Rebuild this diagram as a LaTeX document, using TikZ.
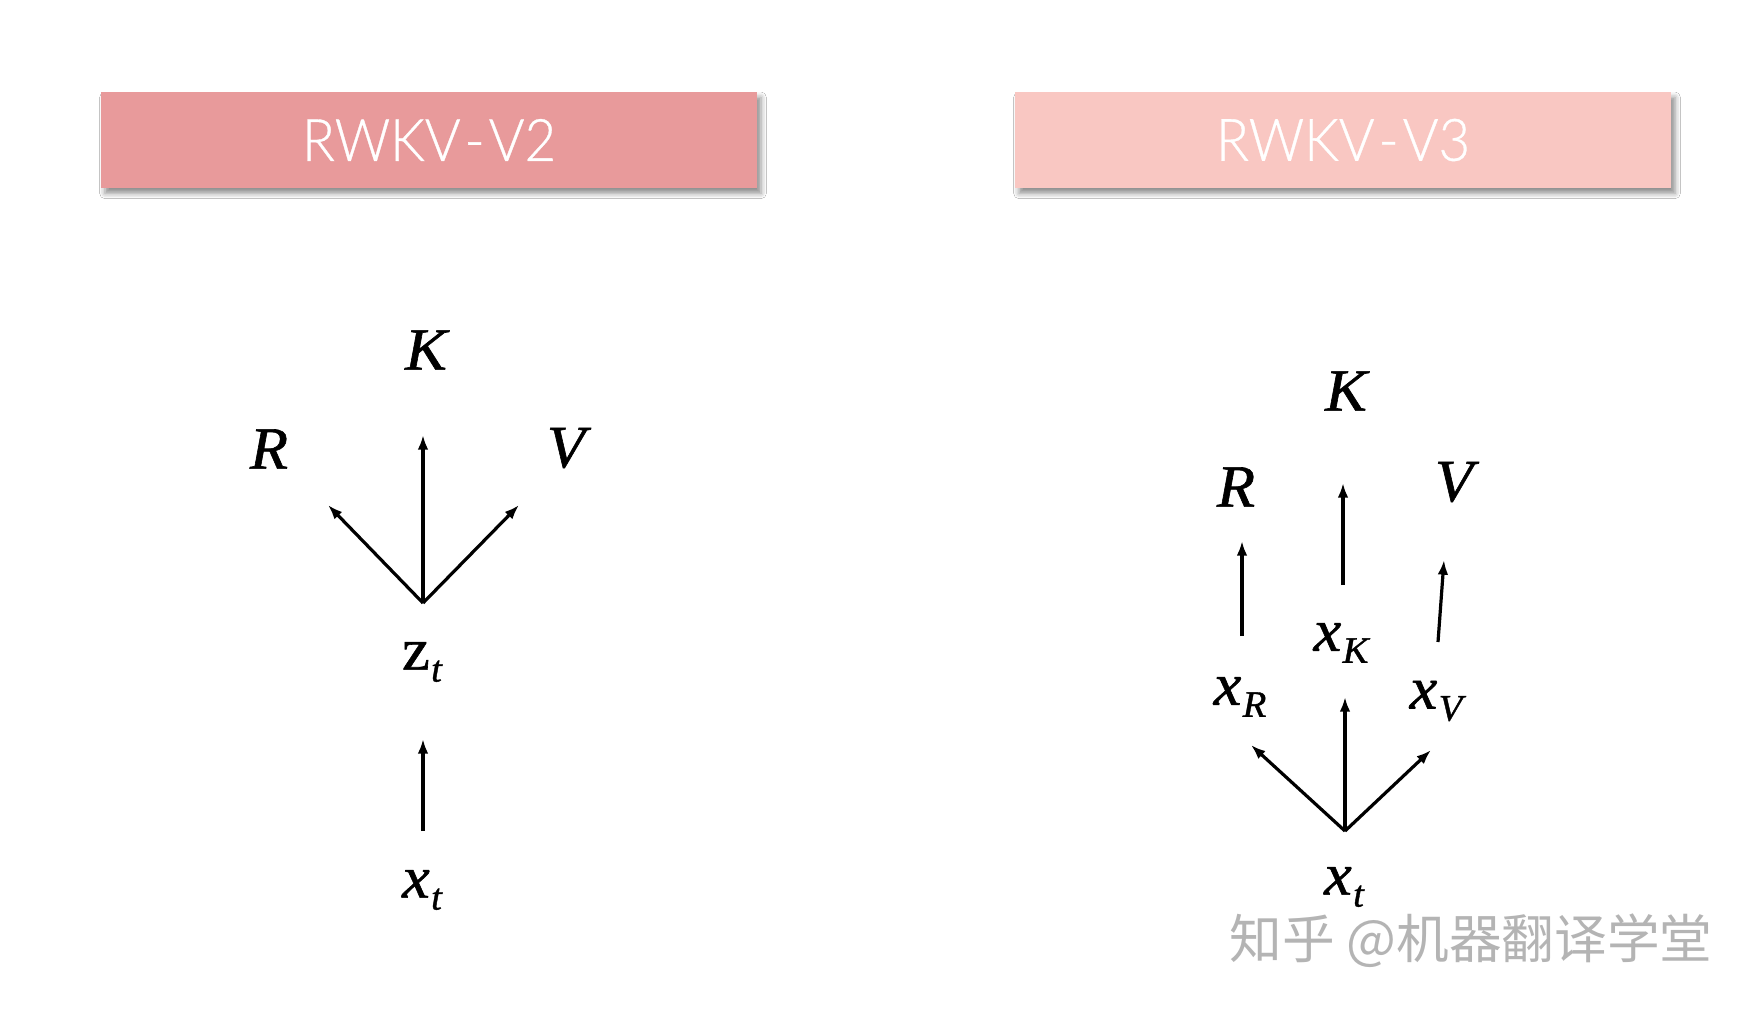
\documentclass[tikz,border=0pt]{standalone}
\usepackage{fontspec}
\setsansfont{Lato Light}[FakeStretch=0.93, FakeBold=0.6]
\newfontfamily\cjk{Noto Sans CJK SC}
\newfontfamily\mf{Liberation Serif}[FakeBold=1.0, FakeStretch=1.04]
\usetikzlibrary{shadows.blur,arrows.meta}
\definecolor{titleA}{HTML}{E89A9B}
\definecolor{titleB}{HTML}{F9C7C2}
\definecolor{wmark}{HTML}{B4B4B4}
\newcommand{\vsub}[2]{#1\kern1pt\raisebox{-9pt}{\fontsize{28}{30}\selectfont #2}}
\tikzset{
  titlebox/.style={minimum width=492pt, minimum height=72pt, inner sep=0pt,
    text=white, font=\sffamily\fontsize{44}{48}\selectfont,
    blur shadow={shadow xshift=3pt, shadow yshift=-4pt, shadow blur radius=4pt, shadow opacity=45}},
  mlabel/.style={inner sep=0pt, font=\mf\itshape\fontsize{45}{48}\selectfont},
  arr/.style={line width=2.4pt, -{Latex[length=11pt,width=8pt]}},
}
\begin{document}
\begin{tikzpicture}[x=0.75pt,y=-0.75pt]
\useasboundingbox[fill=white] (0,0) rectangle (1756,1008);
% titles
\node[titlebox, fill=titleA] (tA) at (429,140) {RWKV\hspace{3pt}-\hspace{3pt}V2};
\node[titlebox, fill=titleB] (tB) at (1343,140) {RWKV\hspace{3pt}-\hspace{3pt}V3};
% ---- left diagram (V2)
\node[mlabel] (K2) at (426,350) {K};
\node[mlabel] (R2) at (269,449) {R};
\node[mlabel] (V2) at (566,448) {V};
\node[mlabel] (z2) at (422,662) {\vsub{{\upshape z}}{t}};
\node[mlabel] (x2) at (422,890) {\vsub{x}{t}};
\coordinate (o2) at (423,603);
\coordinate (kt2) at (423,435);
\coordinate (rt2) at (328,505);
\coordinate (vt2) at (519,505);
\coordinate (ub2) at (423,831);
\coordinate (ut2) at (423,739);
\draw[arr] (o2) -- (kt2);
\draw[arr] (o2) -- (rt2);
\draw[arr] (o2) -- (vt2);
\draw[arr] (ub2) -- (ut2);
% ---- right diagram (V3)
\node[mlabel] (K3) at (1346,391) {K};
\node[mlabel] (R3) at (1236,487) {R};
\node[mlabel] (V3) at (1454,482) {V};
\node[mlabel] (xK) at (1341,643) {\vsub{x}{K}};
\node[mlabel] (xR) at (1240,697) {\vsub{x}{R}};
\node[mlabel] (xV) at (1436,701) {\vsub{x}{V}};
\node[mlabel] (x3) at (1344,887) {\vsub{x}{t}};
\coordinate (rb3) at (1242,636);
\coordinate (rt3) at (1242,541);
\coordinate (kb3) at (1343,585);
\coordinate (kt3) at (1343,483);
\coordinate (vb3) at (1438,642);
\coordinate (vt3) at (1444,560);
\coordinate (o3) at (1345,831);
\coordinate (ct3) at (1345,697);
\coordinate (lt3) at (1251,745);
\coordinate (rr3) at (1431,750);
\draw[arr] (rb3) -- (rt3);
\draw[arr] (kb3) -- (kt3);
\draw[arr] (vb3) -- (vt3);
\draw[arr] (o3) -- (ct3);
\draw[arr] (o3) -- (lt3);
\draw[arr] (o3) -- (rr3);
% watermark
\node[inner sep=0pt, text=wmark, font=\cjk\fontsize{39.5}{42}\selectfont] (wm) at (1471,941) {知乎 @机器翻译学堂};
\end{tikzpicture}
\end{document}
